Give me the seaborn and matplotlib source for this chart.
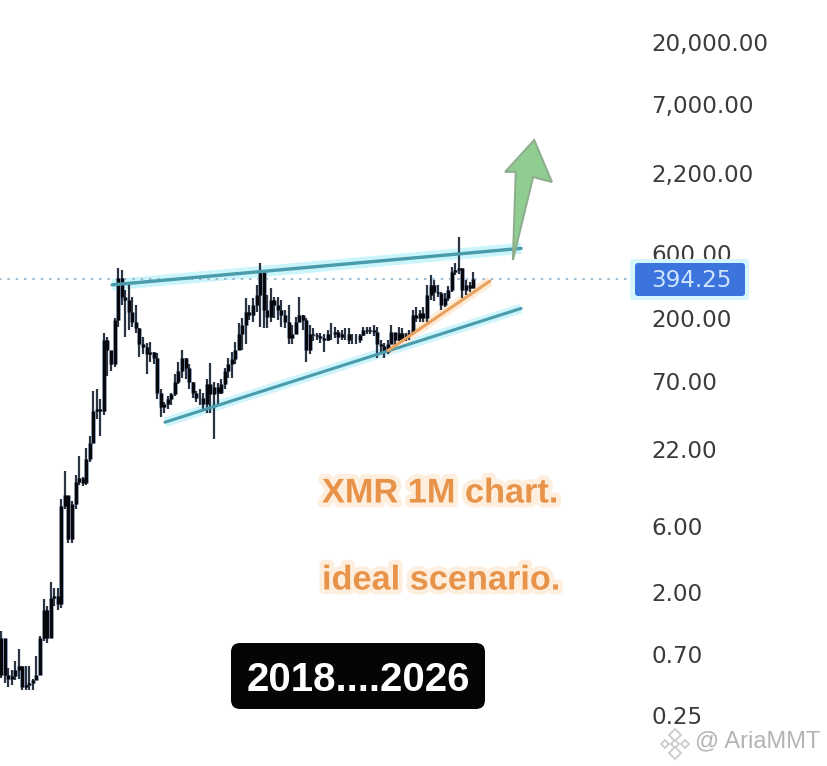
import numpy as np
import pandas as pd
import matplotlib.pyplot as plt
import matplotlib.patheffects as pe
from matplotlib.patches import FancyBboxPatch, Polygon
from matplotlib.transforms import IdentityTransform, ScaledTranslation
import seaborn as sns

# monthly candles, XMR
highs = [1.05, 0.63, 0.56, 0.54, 0.63, 0.77, 0.58, 0.58, 0.58, 0.47,
         0.69, 0.97, 1.79, 1.6, 2.39, 2.15, 2.15, 9.77, 15.5, 8.6,
         9.3, 14.4, 19.9, 14.1, 22.7, 28, 60, 61.8, 52.3, 158,
         148, 111, 204, 473, 459, 328, 375, 291, 255, 172,
         148, 134, 136, 115, 113, 61.8, 50, 55, 58, 79.4,
         97.8, 120, 104, 94, 70, 60, 62, 58, 73, 96,
         69, 68, 73, 88, 104, 115, 136, 188, 204, 286,
         255, 286, 357, 515, 422, 302, 338, 291, 291, 277,
         235, 255, 183, 207, 291, 216, 204, 183, 172, 158,
         158, 155, 168, 188, 176, 168, 168, 172, 172, 155,
         155, 155, 176, 176, 176, 180, 176, 142, 134, 142,
         183, 158, 176, 172, 158, 168, 235, 245, 235, 245,
         357, 422, 388, 357, 315, 310, 350, 480, 515, 803,
         473, 388, 375, 442]
lows = [0.474, 0.44, 0.41, 0.42, 0.46, 0.47, 0.39, 0.39, 0.39, 0.39,
        0.47, 0.50, 0.89, 0.85, 0.93, 1.6, 1.49, 1.54, 8.25, 4.58,
        4.58, 8.25, 12.2, 12, 12.2, 18.2, 29, 37.4, 27.9, 40,
        76.7, 83, 89, 176, 255, 148, 168, 176, 158, 106,
        111, 79.4, 98, 93.8, 52.3, 38.7, 41.4, 44, 46.8, 54.7,
        67, 74, 73, 62, 53, 50, 47, 44, 41.4, 41.4,
        26.8, 48, 57, 62, 74, 74, 94, 120, 120, 131,
        199, 192, 226, 176, 172, 172, 192, 204, 199, 176,
        172, 131, 131, 155, 192, 168, 98, 111, 138, 142,
        134, 115, 138, 142, 145, 131, 142, 142, 131, 131,
        131, 134, 151, 155, 155, 151, 104, 115, 104, 111,
        131, 125, 138, 138, 138, 142, 155, 192, 192, 192,
        192, 277, 270, 291, 235, 245, 270, 315, 422, 428,
        286, 302, 315, 338]
closes = [0.93, 0.50, 0.47, 0.49, 0.54, 0.58, 0.41, 0.42, 0.44, 0.46,
          0.50, 0.93, 1.49, 0.93, 1.82, 1.9, 1.65, 8.6, 10.3, 4.98,
          8.95, 12.9, 13.7, 12.7, 19.1, 24.7, 42.9, 44.2, 42.9, 142,
          120, 93.8, 199, 403, 292, 277, 226, 192, 172, 131,
          125, 111, 115, 104, 58, 45.6, 48, 52, 57, 70,
          83, 104, 88, 70, 58, 53, 53, 48, 67, 57,
          64, 58, 67, 83, 94, 102, 120, 155, 183, 226,
          216, 255, 302, 442, 235, 208, 277, 255, 235, 216,
          192, 145, 155, 192, 216, 199, 120, 155, 153, 151,
          145, 142, 157, 155, 162, 148, 157, 155, 142, 142,
          140, 153, 168, 165, 168, 162, 131, 128, 115, 131,
          162, 142, 158, 145, 153, 158, 216, 204, 222, 204,
          302, 357, 315, 310, 255, 286, 328, 442, 459, 473,
          328, 357, 338, 394.25]
first_open = 0.5
opens = [first_open] + closes[:-1]
last_price = 394.25

# the platform rounds its labels, the top three sit a bit above the round value
price_ticks = [21000, 7350, 2310, 600, 200, 70, 22, 6, 2, 0.70, 0.25]
price_labels = ['20,000.00', '7,000.00', '2,200.00', '600.00', '200.00', '70.00',
                '22.00', '6.00', '2.00', '0.70', '0.25']

# hand drawn stuff on the chart (month index, price)
upper_month = [31.3, 146.5]
upper_price = [357, 660]
lower_month = [46.2, 146.5]
lower_price = [35.3, 240]
orange_month = [109, 137.7]
orange_price = [118, 380]
arrow_month = [150.2, 155.2, 149.9, 144.2, 145.0, 142]
arrow_price = [4090, 2017, 2193, 542, 2400, 2390]

sns.set_theme(style='white')
plt.rcParams['font.family'] = ['DejaVu Sans']

W, H = 828, 766
fig = plt.figure(figsize=(W / 100, H / 100), dpi=100)
ax = fig.add_axes([0, 0, 1, 1])
ax.set_yscale('log')

months = np.arange(len(closes))
wicks = pd.DataFrame({'month': np.r_[months, months], 'price': np.r_[highs, lows]})
bodies = pd.DataFrame({'month': np.r_[months, months], 'price': np.r_[opens, closes]})

# pale halo on the lines, the screenshot has that from compression
for mx, py, c, lw in [(upper_month, upper_price, '#c9f5fb', 8),
                      (lower_month, lower_price, '#cdf5fb', 7),
                      (orange_month, orange_price, '#fdebd6', 7)]:
    sns.lineplot(x=mx, y=py, color=c, linewidth=lw, ax=ax, zorder=1, solid_capstyle='butt')

sns.lineplot(x=[-1, 178], y=[last_price, last_price], color='#8fb0c8', linewidth=1.2,
             linestyle=(0, (1.5, 3.5)), ax=ax, zorder=1)

# blurred blue edge, then wick, then body
sns.lineplot(data=bodies, x='month', y='price', units='month', estimator=None, sort=False,
             color='#8fa6c8', linewidth=3.4, ax=ax, zorder=2, solid_capstyle='butt')
sns.lineplot(data=wicks, x='month', y='price', units='month', estimator=None, sort=False,
             color='#2a3442', linewidth=1.6, ax=ax, zorder=3, solid_capstyle='butt')
sns.lineplot(data=bodies, x='month', y='price', units='month', estimator=None, sort=False,
             color='#08080c', linewidth=2.3, ax=ax, zorder=4, solid_capstyle='butt')

sns.lineplot(x=upper_month, y=upper_price, color='#4a9bab', linewidth=2.4, ax=ax, zorder=5, solid_capstyle='round')
sns.lineplot(x=lower_month, y=lower_price, color='#4a9bab', linewidth=2.2, ax=ax, zorder=5, solid_capstyle='round')
sns.lineplot(x=orange_month, y=orange_price, color='#e9a15f', linewidth=2.2, ax=ax, zorder=5, solid_capstyle='round')

ax.add_patch(Polygon(np.column_stack([arrow_month, arrow_price]), closed=True, facecolor='#90cd90',
                     edgecolor='#8fae90', linewidth=1.5, zorder=5))

ax.set_xlim(-0.28, 232.96)
ax.set_ylim(0.108, 43250)
ax.set_xticks([])
ax.set_xlabel('')
ax.set_ylabel('')
ax.yaxis.tick_right()
ax.set_yticks(price_ticks)
ax.set_yticklabels(price_labels)
ax.minorticks_off()
ax.tick_params(axis='y', length=0, pad=-127.4, labelsize=16.6, labelcolor='#3b3b3b')
nudge = ScaledTranslation(0, 1 / 100, fig.dpi_scale_trans)
for lab in ax.get_yticklabels():
    lab.set_transform(lab.get_transform() + nudge)
sns.despine(ax=ax, left=True, right=True, top=True, bottom=True)


def fx(x):
    return x / W


def fy(y):
    return 1 - y / H


def box(x0, y0, x1, y1, face, rounding, z=6, edge='none'):
    # pixel box, y counted from the top like in the screenshot
    p = FancyBboxPatch((x0, H - y1), x1 - x0, y1 - y0, boxstyle=f'round,pad=0,rounding_size={rounding}',
                       facecolor=face, edgecolor=edge, transform=IdentityTransform(), zorder=z)
    ax.add_patch(p)


# last price tag, halo stays behind the 600.00 label
box(630, 259, 749, 300, '#d5f6fd', 3, z=1)
box(635, 263, 745, 296, '#3a74dc', 3, z=7)
ax.text(fx(651), fy(280), '394.25', transform=ax.transAxes, color='#cfe5ff', fontsize=16.6,
        va='center', ha='left', zorder=8)

halo = [pe.withStroke(linewidth=7, foreground='#fdeedd')]
for label, y in [('XMR 1M chart.', 494), ('ideal scenario.', 581)]:
    ax.text(fx(322), fy(y), label, transform=ax.transAxes, family='Liberation Sans', weight='bold',
            fontsize=24.7, color='#e8934a', va='center', ha='left', path_effects=halo, zorder=8)

box(231, 643, 485, 709, '#050505', 9)
ax.text(fx(358), fy(680), '2018....2026', transform=ax.transAxes, family='Liberation Sans', weight='bold',
        fontsize=29, color='white', va='center', ha='center', zorder=8)

# watermark
for cx, cy, r in [(675, 735, 6), (665, 744, 4), (685, 744, 4), (675, 744, 4), (675, 753, 6)]:
    ax.add_patch(Polygon([(cx, H - cy + r), (cx + r, H - cy), (cx, H - cy - r), (cx - r, H - cy)], closed=True,
                         facecolor='white', edgecolor='#c8c8c8', linewidth=1.2,
                         transform=IdentityTransform(), zorder=8))
ax.text(fx(695), fy(741), '@ AriaMMT', transform=ax.transAxes, family='Liberation Sans', fontsize=17,
        color='#b4b4b4', va='center', ha='left', zorder=8)

fig.savefig('out.png', dpi=100)
plt.close(fig)
